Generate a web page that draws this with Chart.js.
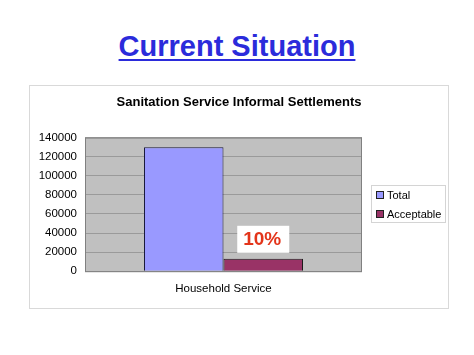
<!DOCTYPE html>
<html>
<head>
<meta charset="utf-8">
<script src="https://cdn.jsdelivr.net/npm/chart.js@4"></script>
<style>
  body { margin: 0; background: #fff; width: 474px; height: 355px; position: relative; font-family: "Liberation Sans", Arial, sans-serif; }
  h1 { position: absolute; left: 0; width: 474px; top: 30px; margin: 0; text-align: center; font-size: 29px; font-weight: bold; color: #2b2bdb; text-decoration: underline; text-decoration-thickness: 2px; text-underline-offset: 3px; }
  #frame { position: absolute; left: 29px; top: 85px; width: 418px; height: 222px; border: 1px solid #d9d9d9; }
  canvas { display: block; }
  #legend { position: absolute; left: 371px; top: 185px; width: 73px; height: 36px; border: 1px solid #d4d4d4; font-size: 11px; color: #000; }
  #legend div { position: absolute; left: 4px; height: 14px; line-height: 14px; white-space: nowrap; }
  #legend span { display: inline-block; width: 6px; height: 6px; border: 1px solid #222; margin-right: 3px; vertical-align: 0px; }
</style>
</head>
<body>
<h1>Current Situation</h1>
<div id="frame"><canvas id="sanChart" width="418" height="222"></canvas></div>
<div id="legend"></div>
<script>
const categories = ["Household Service"];
const seriesNames = ["Total", "Acceptable"];
const totalValues = [130000];
const acceptableValues = [13000];
const shareLabels = ["10%"];
const seriesColors = ["#9999ff", "#993366"];

// gray plot area + border + "10%" box
const plotBg = {
  id: "plotBg",
  beforeDraw(chart) {
    const { ctx, chartArea: a } = chart;
    ctx.save();
    ctx.fillStyle = "#c0c0c0";
    ctx.fillRect(a.left, a.top, a.right - a.left, a.bottom - a.top);
    ctx.restore();
  },
  afterDatasetsDraw(chart) {
    const { ctx, chartArea: a } = chart;
    ctx.save();
    ctx.strokeStyle = "#808080";
    ctx.lineWidth = 1;
    ctx.strokeRect(a.left + 0.5, a.top + 0.5, a.right - a.left - 1, a.bottom - a.top);
    const bar = chart.getDatasetMeta(1).data[0];
    ctx.font = "bold 19px 'Liberation Sans', Arial, sans-serif";
    ctx.textAlign = "center";
    ctx.textBaseline = "middle";
    const cx = bar.x, cy = bar.y - 20;
    ctx.fillStyle = "#fff";
    ctx.fillRect(cx - 26, cy - 13, 52, 27);
    ctx.fillStyle = "#e3341a";
    ctx.fillText(shareLabels[0], cx - 1, cy + 1);
    ctx.restore();
  }
};

new Chart(document.getElementById("sanChart"), {
  type: "bar",
  data: {
    labels: categories,
    datasets: [
      { label: seriesNames[0], data: totalValues, backgroundColor: seriesColors[0], borderColor: "#1a1a3a", borderWidth: 1 },
      { label: seriesNames[1], data: acceptableValues, backgroundColor: seriesColors[1], borderColor: "#1a1a1a", borderWidth: 1 }
    ]
  },
  options: {
    responsive: false,
    animation: false,
    layout: { padding: { left: 0, right: 0, top: 0, bottom: 9 } },
    datasets: { bar: { barPercentage: 1, categoryPercentage: 0.574 } },
    plugins: {
      title: {
        display: true,
        text: "Sanitation Service Informal Settlements",
        color: "#000",
        font: { family: "'Liberation Sans', Arial, sans-serif", size: 13, weight: "bold" },
        padding: { top: 9, bottom: 27 }
      },
      legend: { display: false },
      tooltip: { enabled: false }
    },
    scales: {
      x: {
        grid: { display: false },
        border: { display: false },
        ticks: { color: "#000", padding: 3, font: { family: "'Liberation Sans', Arial, sans-serif", size: 11.5 } }
      },
      y: {
        min: 0,
        max: 140000,
        afterFit(scale) { scale.width = 55; },
        ticks: {
          stepSize: 20000, color: "#000", padding: 8,
          font: { family: "'Liberation Sans', Arial, sans-serif", size: 11.5 },
          callback: v => String(v)
        },
        grid: { color: "#9a9a9a", drawTicks: false },
        border: { display: false }
      },
      // empty right axis keeps room for the legend
      yRight: {
        position: "right",
        afterFit(scale) { scale.width = 86; },
        ticks: { display: false },
        grid: { display: false },
        border: { display: false }
      }
    }
  },
  plugins: [plotBg]
});

const legendEl = document.getElementById("legend");
seriesNames.forEach((name, i) => {
  const row = document.createElement("div");
  row.style.top = (2 + i * 19) + "px";
  const sw = document.createElement("span");
  sw.style.background = seriesColors[i];
  row.appendChild(sw);
  row.appendChild(document.createTextNode(name));
  legendEl.appendChild(row);
});
</script>
</body>
</html>
